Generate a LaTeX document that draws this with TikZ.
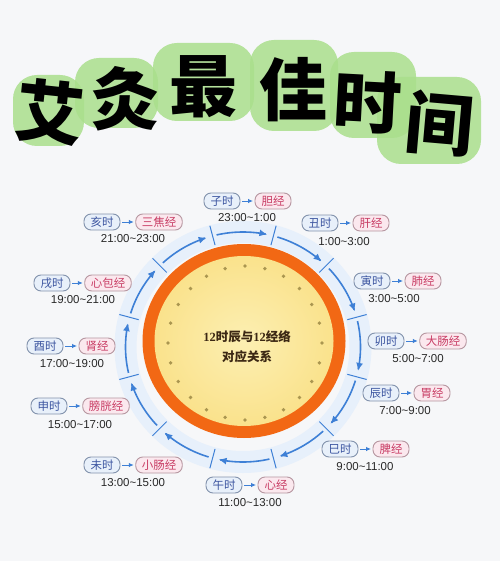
\documentclass[tikz,border=0pt]{standalone}
\usepackage{fontspec}
\setmainfont{Liberation Sans}
\newfontfamily\cjk{Noto Sans CJK SC}
\newfontfamily\lserif{Liberation Serif}
\usetikzlibrary{arrows.meta}
\definecolor{bg}{RGB}{246,247,249}
\definecolor{titlegreen}{RGB}{170,223,140}
\definecolor{shiedge}{RGB}{130,146,172}
\definecolor{shifill}{RGB}{232,240,250}
\definecolor{shitext}{RGB}{60,85,160}
\definecolor{jingedge}{RGB}{182,150,160}
\definecolor{jingfill}{RGB}{251,232,238}
\definecolor{jingtext}{RGB}{200,60,100}
\definecolor{arrowblue}{RGB}{62,128,214}
\definecolor{glowblue}{RGB}{231,240,251}
\definecolor{ringorange}{RGB}{242,104,20}
\definecolor{yellowin}{RGB}{252,239,178}
\definecolor{yellowout}{RGB}{250,226,140}
\definecolor{dotc}{RGB}{170,150,80}
\definecolor{timetext}{RGB}{40,40,40}
\definecolor{centertext}{RGB}{60,40,20}
\tikzset{
  shibox/.style={draw=shiedge, fill=shifill, text=shitext, rounded corners=7pt,
    line width=0.9pt, minimum width=36pt, minimum height=16pt, inner xsep=6pt, inner ysep=1pt,
    font=\cjk\fontsize{11.5}{12}\selectfont},
  jingbox/.style={draw=jingedge, fill=jingfill, text=jingtext, rounded corners=7pt,
    line width=0.9pt, minimum width=36pt, minimum height=16pt, inner xsep=6pt, inner ysep=1pt,
    font=\cjk\fontsize{11.5}{12}\selectfont},
  timelabel/.style={text=timetext, inner sep=0pt, font=\fontsize{11.5}{12}\selectfont},
  smallarr/.style={draw=arrowblue, line width=1pt, -{Latex[length=5pt,width=4.5pt]},
    shorten >=1.5pt, shorten <=2pt},
  arcline/.style={draw=arrowblue, line width=1.6pt, -{Latex[length=8pt,width=7pt]}},
  tickline/.style={draw=arrowblue, line width=1pt},
  blob/.style={fill=titlegreen, opacity=0.85, rounded corners=24pt},
  titlechar/.style={inner sep=0pt, font=\cjk\bfseries\fontsize{68}{68}\selectfont, text=black},
  centerlabel/.style={inner sep=0pt, text=centertext}
}
\begin{document}
\begin{tikzpicture}[x=1pt,y=-1pt]
\fill[bg] (0,0) rectangle (500,561);
\useasboundingbox (0,0) rectangle (500,561);

% title blobs
\fill[blob] (13,75) rectangle (84,146);
\fill[blob] (75,58) rectangle (158,128);
\fill[blob] (153,43) rectangle (254,121);
\fill[blob] (250,40) rectangle (338,131);
\fill[blob] (330,52) rectangle (416,138);
\fill[blob] (377,77) rectangle (481,164);

% title characters
\node[titlechar, rotate=-6] (t1) at (50,112) {艾};
\node[titlechar] (t2) at (125,99) {灸};
\node[titlechar] (t3) at (203,87) {最};
\node[titlechar] (t4) at (293,90) {佳};
\node[titlechar, rotate=-3] (t5) at (368,102) {时};
\node[titlechar, rotate=-5] (t6) at (440,124) {间};

% glow band
\draw[glowblue, line width=22pt] (243,347) ellipse [x radius=117.5pt, y radius=115pt];

% orange ring and yellow disc
\fill[ringorange] (244,341) ellipse [x radius=101.5pt, y radius=97pt];
\shade[inner color=yellowin, outer color=yellowout] (244,341) ellipse [x radius=89.5pt, y radius=85pt];
\foreach \a in {0,15,...,345}
  \fill[dotc] ({245+77*cos(\a)},{343-77*sin(\a)}) circle [radius=1.9pt];

% center text
\node[centerlabel] (c1) at (247,337) {\fontsize{12.5}{13}\selectfont\lserif\bfseries 12\cjk\bfseries 时辰与\lserif 12\cjk\bfseries 经络};
\node[centerlabel] (c2) at (247,357) {\cjk\bfseries\fontsize{12.5}{13}\selectfont 对应关系};

% arcs
\foreach \k in {0,...,11}{
  \pgfmathsetmacro\sa{103-30*\k}
  \pgfmathsetmacro\ea{78-30*\k}
  \draw[arcline] plot[domain=0:1, samples=25, smooth]
    ({243+117.5*cos(\sa+(\ea-\sa)*\x)},{347-115*sin(\sa+(\ea-\sa)*\x)});
}
% ticks
\foreach \a in {105,75,...,-225}
  \draw[tickline] ({243+108*cos(\a)},{347-105.5*sin(\a)}) -- ({243+128*cos(\a)},{347-125.5*sin(\a)});

% labels
\node[shibox] (s0) at (222,201) {子时};
\node[jingbox] (j0) at (273,201) {胆经};
\node[timelabel] (h0) at (247,218) {23:00\char`~1:00};

\node[shibox] (s1) at (320,223) {丑时};
\node[jingbox] (j1) at (371,223) {肝经};
\node[timelabel] (h1) at (344,242) {1:00\char`~3:00};

\node[shibox] (s2) at (372,281) {寅时};
\node[jingbox] (j2) at (423,281) {肺经};
\node[timelabel] (h2) at (394,299) {3:00\char`~5:00};

\node[shibox] (s3) at (386,341) {卯时};
\node[jingbox] (j3) at (443,341) {大肠经};
\node[timelabel] (h3) at (418,359) {5:00\char`~7:00};

\node[shibox] (s4) at (381,393) {辰时};
\node[jingbox] (j4) at (432,393) {胃经};
\node[timelabel] (h4) at (405,411) {7:00\char`~9:00};

\node[shibox] (s5) at (340,449) {巳时};
\node[jingbox] (j5) at (391,449) {脾经};
\node[timelabel] (h5) at (365,467) {9:00\char`~11:00};

\node[shibox] (s6) at (224,485) {午时};
\node[jingbox] (j6) at (276,485) {心经};
\node[timelabel] (h6) at (250,503) {11:00\char`~13:00};

\node[shibox] (s7) at (102,465) {未时};
\node[jingbox] (j7) at (159,465) {小肠经};
\node[timelabel] (h7) at (133,483) {13:00\char`~15:00};

\node[shibox] (s8) at (49,406) {申时};
\node[jingbox] (j8) at (106,406) {膀胱经};
\node[timelabel] (h8) at (80,425) {15:00\char`~17:00};

\node[shibox] (s9) at (45,346) {酉时};
\node[jingbox] (j9) at (97,346) {肾经};
\node[timelabel] (h9) at (72,364) {17:00\char`~19:00};

\node[shibox] (s10) at (52,283) {戌时};
\node[jingbox] (j10) at (108,283) {心包经};
\node[timelabel] (h10) at (83,300) {19:00\char`~21:00};

\node[shibox] (s11) at (102,222) {亥时};
\node[jingbox] (j11) at (159,222) {三焦经};
\node[timelabel] (h11) at (133,239) {21:00\char`~23:00};

\foreach \i in {0,...,11}
  \draw[smallarr] (s\i) -- (j\i);
\end{tikzpicture}
\end{document}
